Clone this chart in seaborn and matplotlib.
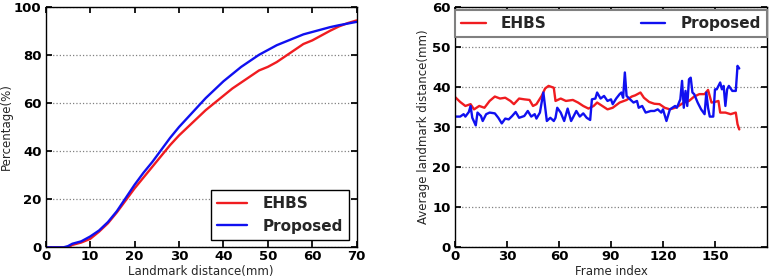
import numpy as np
import pandas as pd
import seaborn as sns
import matplotlib
matplotlib.use('Agg')
import matplotlib.pyplot as plt

# left panel: cumulative percentage vs landmark distance
dist_mm = [0, 2, 4, 5, 6, 8, 10, 12, 14, 16, 18, 20, 22, 24, 26, 28, 30, 32, 34, 36, 38,
           40, 42, 44, 46, 48, 50, 52, 54, 56, 58, 60, 62, 64, 66, 68, 70]
ehbs_pct = [0, 0, 0, 0, 1, 2, 3.5, 6.5, 10, 14.5, 19.5, 24.5, 29, 33.5, 38, 42.5, 46.5, 50, 53.5, 57, 60,
            63, 66, 68.5, 71, 73.5, 75, 77, 79.5, 82, 84.5, 86, 88, 90, 91.8, 93.2, 94.3]
prop_pct = [0, 0, 0, 0.5, 1.5, 2.5, 4.5, 7, 10.5, 15, 20.5, 26, 31, 35.5, 40.5, 45.5, 50, 54, 58, 62, 65.5,
            69, 72, 75, 77.5, 80, 82, 84, 85.5, 87, 88.5, 89.5, 90.5, 91.5, 92.3, 93, 93.7]

# right panel: average landmark distance per frame
ehbs_frames = [0, 3, 6, 9, 11, 14, 17, 20, 23, 26, 29, 32, 34, 37, 40, 43, 45, 47, 50, 52, 54, 57, 58,
               61, 64, 68, 71, 74, 77, 80, 82, 85, 88, 91, 95, 99, 102, 104, 107, 109, 112, 115, 118,
               121, 124, 127, 129, 132, 135, 138, 141, 144, 146, 148, 150, 152, 153, 156, 159, 162, 163, 164]
ehbs_dist = [37.5, 36.25, 35.25, 35.7, 34.4, 35.25, 34.8, 36.5, 37.6, 37.1, 37.3, 36.5, 35.7, 37.1, 36.9,
             36.75, 35.25, 35.7, 37.75, 39.6, 40.25, 39.8, 36.5, 37.1, 36.5, 36.75, 36.1, 35.25, 34.6,
             35.25, 36.1, 35.25, 34.4, 34.8, 36.1, 36.75, 37.6, 37.9, 38.6, 37.3, 36.25, 35.8, 35.7,
             34.8, 34.4, 34.8, 35.25, 36.1, 36.5, 37.6, 38.2, 38.2, 39.25, 36.1, 36.25, 36.5, 33.6,
             33.6, 33.2, 33.6, 30.7, 29.4]
prop_frames = [0, 3, 5, 6, 8, 9, 10, 12, 13, 15, 16, 18, 20, 23, 25, 27, 29, 31, 33, 35, 37, 40, 42, 44,
               46, 47, 49, 51, 53, 55, 57, 58, 59, 61, 63, 65, 67, 68, 70, 72, 74, 76, 78, 79, 81, 82,
               84, 86, 88, 90, 91, 93, 95, 96, 97, 98, 99, 101, 103, 105, 106, 108, 110, 113, 115, 117,
               119, 120, 122, 124, 127, 128, 130, 131, 132, 133, 134, 135, 136, 137, 138, 140, 142, 144,
               145, 146, 147, 149, 150, 151, 153, 154, 155, 156, 157, 158, 160, 162, 163, 164]
prop_dist = [32.6, 32.6, 33.2, 32.6, 33.75, 35.25, 32.3, 30.4, 33.6, 32.75, 31.5, 33.2, 33.6, 33.4, 32.3,
             30.9, 32.1, 31.9, 32.75, 33.75, 32.3, 32.75, 34, 32.6, 33.2, 32.1, 33.6, 38.6, 31.5, 32.3,
             31.5, 32.3, 34.8, 33.6, 31.5, 34.6, 31.5, 32.3, 34, 32.6, 33.4, 32.3, 31.75, 36.9, 37.1,
             38.6, 37.1, 37.75, 36.5, 36.9, 35.7, 37.1, 38.2, 38.6, 37.3, 43.6, 37.75, 36.9, 36.1, 36.5,
             34.8, 35.25, 33.6, 34, 34, 34.4, 33.6, 34.4, 31.5, 34.4, 35.25, 34.8, 36.9, 41.5, 34.8, 39,
             35.25, 41.9, 42.3, 38.6, 38.2, 36.1, 34.4, 33.2, 38.6, 34.8, 32.6, 32.6, 39.4, 39.4, 41.1,
             39.4, 40.25, 35.25, 39.4, 40.25, 39, 39, 45.25, 44.6]

methods = ['EHBS', 'Proposed']
colors = {'EHBS': '#f01c20', 'Proposed': '#1010f0'}

cdf = pd.DataFrame({'dist': dist_mm * 2, 'pct': ehbs_pct + prop_pct,
                    'method': ['EHBS'] * len(dist_mm) + ['Proposed'] * len(dist_mm)})
frames = pd.DataFrame({'frame': ehbs_frames + prop_frames, 'avg': ehbs_dist + prop_dist,
                       'method': ['EHBS'] * len(ehbs_frames) + ['Proposed'] * len(prop_frames)})

sns.set_theme(style='ticks')
plt.rcParams.update({
    'font.family': ['DejaVu Sans'],
    'xtick.direction': 'in', 'ytick.direction': 'in',
    'xtick.top': True, 'ytick.right': True,
    'axes.edgecolor': 'black', 'axes.linewidth': 1.0,
    'xtick.color': 'black', 'ytick.color': 'black',
    'xtick.major.size': 4, 'ytick.major.size': 4,
    'xtick.major.pad': 2, 'ytick.major.pad': 3,
})

fig = plt.figure(figsize=(7.71, 2.79), dpi=100)
ax1 = fig.add_axes([0.0593, 0.1135, 0.4034, 0.8625])
ax2 = fig.add_axes([0.5901, 0.1135, 0.4047, 0.8625])

sns.lineplot(data=cdf, x='dist', y='pct', hue='method', hue_order=methods, palette=colors,
             lw=1.7, ax=ax1, legend=False)
sns.lineplot(data=frames, x='frame', y='avg', hue='method', hue_order=methods, palette=colors,
             lw=1.7, ax=ax2, legend=False)

ax1.set_xlim(0, 70)
ax1.set_ylim(0, 100)
ax1.set_xticks(range(0, 71, 10))
ax1.set_yticks(range(0, 101, 20))
ax1.set_xlabel('Landmark distance(mm)', fontsize=8.5, labelpad=1)
ax1.set_ylabel('Percentage(%)', fontsize=8.5, labelpad=0.5)

ax2.set_xlim(0, 180)
ax2.set_ylim(0, 60)
ax2.set_xticks(range(0, 151, 30))
ax2.set_yticks(range(0, 61, 10))
ax2.set_xlabel('Frame index', fontsize=8.5, labelpad=1)
ax2.set_ylabel('Average landmark distance(mm)', fontsize=8.5, labelpad=2)

for ax in (ax1, ax2):
    ax.yaxis.grid(True, linestyle=':', color='gray', linewidth=0.9)
    ax.set_axisbelow(True)
    for lbl in ax.get_xticklabels() + ax.get_yticklabels():
        lbl.set_fontweight('bold')
        lbl.set_fontsize(9.5)

leg1 = ax1.legend(handles=ax1.lines[:2], labels=methods, loc='lower right', fancybox=False,
                  edgecolor='black', framealpha=1, handlelength=2.0, handletextpad=1.0,
                  prop={'weight': 'bold', 'size': 11})
leg1.get_frame().set_linewidth(1.0)

leg2 = ax2.legend(handles=ax2.lines[:2], labels=methods, loc='lower left',
                  bbox_to_anchor=(0, 0.872, 1, 0.1075), mode='expand', ncol=2, borderaxespad=0,
                  fancybox=False, edgecolor='gray', framealpha=1, handlelength=1.6,
                  handletextpad=1.0, prop={'weight': 'bold', 'size': 11})
leg2.get_frame().set_linewidth(1.5)

fig.savefig('out.png', dpi=100)
